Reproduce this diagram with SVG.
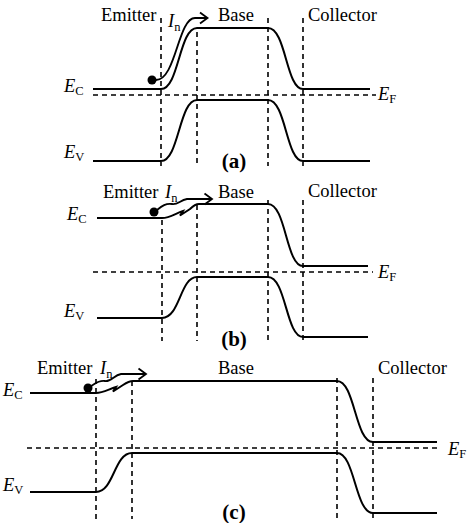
<svg xmlns="http://www.w3.org/2000/svg" width="474" height="523" viewBox="0 0 474 523">
<style>
text{font-family:"Liberation Serif","Times New Roman",serif;font-size:18.5px;fill:#000}
.it{font-style:italic}
.sub{font-size:12.5px;font-style:normal}
.lbl{font-weight:bold;text-anchor:middle;font-size:21px}
.band{fill:none;stroke:#000;stroke-width:2;stroke-linejoin:miter}
.dash{fill:none;stroke:#000;stroke-width:1.6;stroke-dasharray:5,4}
.arr{fill:none;stroke:#000;stroke-width:1.8;stroke-linejoin:miter}
</style>
<rect width="474" height="523" fill="#fff"/>
<g id="panel-a">
  <g id="a-dashes">
    <path class="dash" d="M93,95H376M161,18V166M197,32V166M268,18V166M303,18V166"/>
  </g>
  <g id="a-bands">
    <path class="band" d="M93,89H161C179,89 179,28 197,28H268C286,28 286,89 303,89H370"/>
    <path class="band" d="M93,161H161C179,161 179,100 197,100H268C286,100 286,161 303,161H370"/>
  </g>
  <g id="a-current">
    <circle cx="152" cy="80" r="4.5"/>
    <path class="arr" d="M156,80C176,80 178,18 195,18H206M200,12.5L207.5,18L200,23.5"/>
  </g>
  <g id="a-text">
    <text x="101" y="21">Emitter</text>
    <text x="168" y="27" class="it">I<tspan class="sub" dy="4">n</tspan></text>
    <text x="218" y="21">Base</text>
    <text x="308" y="21">Collector</text>
    <text x="64" y="92" class="it">E<tspan class="sub" dy="3">C</tspan></text>
    <text x="64" y="158" class="it">E<tspan class="sub" dy="3">V</tspan></text>
    <text x="378" y="100" class="it">E<tspan class="sub" dy="3">F</tspan></text>
    <text x="234" y="168" class="lbl">(a)</text>
  </g>
</g>
<g id="panel-b">
  <g id="b-dashes">
    <path class="dash" d="M93,272H373M162,220V341M197,205V341M268,200V341M303,200V341"/>
  </g>
  <g id="b-bands">
    <path class="band" d="M97,218H162C170,218 176,213 183,211L180,215.5L190,209C193,206 195,204 199,204H268C286,204 286,266 303,266H368"/>
    <path class="band" d="M97,318H162C180,318 180,277 197,277H268C286,277 286,337 303,337H368"/>
  </g>
  <g id="b-current">
    <circle cx="154" cy="212" r="4.5"/>
    <path class="arr" d="M157,210C162,206 166,203 172,204C178,205 180,200 187,199H211M204.5,193.5L212,199L204.5,204.5"/>
  </g>
  <g id="b-text">
    <text x="103" y="198">Emitter</text>
    <text x="165" y="198" class="it">I<tspan class="sub" dy="4">n</tspan></text>
    <text x="218" y="198">Base</text>
    <text x="308" y="197">Collector</text>
    <text x="67" y="220" class="it">E<tspan class="sub" dy="3">C</tspan></text>
    <text x="64" y="317" class="it">E<tspan class="sub" dy="3">V</tspan></text>
    <text x="378" y="278" class="it">E<tspan class="sub" dy="3">F</tspan></text>
    <text x="234" y="346" class="lbl">(b)</text>
  </g>
</g>
<g id="panel-c">
  <g id="c-dashes">
    <path class="dash" d="M27,448H441M96,379V519M132,381V519M337,378V519M373,378V519"/>
  </g>
  <g id="c-bands">
    <path class="band" d="M30,393H96C103,393 109,389 116,387L113,391.5L123,385C126,383 129,381 133,381H337C355,381 355,442 373,442H437"/>
    <path class="band" d="M30,492H96C114,492 114,453 132,453H337C355,453 355,513 373,513H437"/>
  </g>
  <g id="c-current">
    <circle cx="88" cy="388" r="4.5"/>
    <path class="arr" d="M91,386C96,383 99,380 105,381C111,382 114,375 121,374H145M138.5,368.5L146,374L138.5,379.5"/>
  </g>
  <g id="c-text">
    <text x="37" y="374">Emitter</text>
    <text x="100" y="374" class="it">I<tspan class="sub" dy="4">n</tspan></text>
    <text x="218" y="374">Base</text>
    <text x="378" y="374">Collector</text>
    <text x="3" y="396" class="it">E<tspan class="sub" dy="3">C</tspan></text>
    <text x="3" y="491" class="it">E<tspan class="sub" dy="3">V</tspan></text>
    <text x="448" y="455" class="it">E<tspan class="sub" dy="3">F</tspan></text>
    <text x="234" y="519" class="lbl">(c)</text>
  </g>
</g>
</svg>
